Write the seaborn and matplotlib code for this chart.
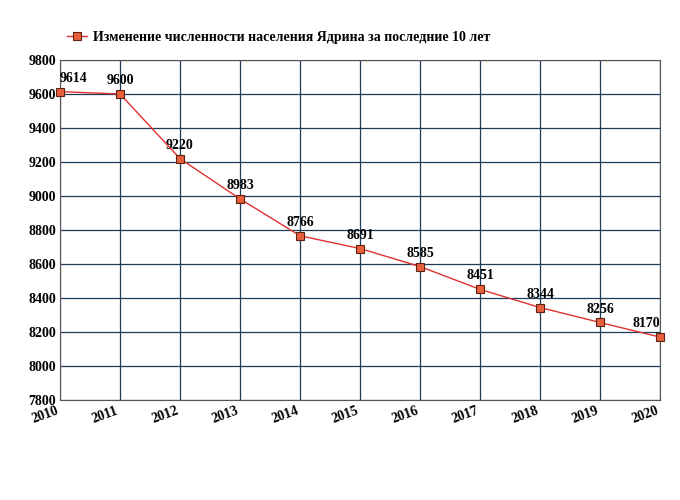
import matplotlib
matplotlib.use("Agg")
import matplotlib.pyplot as plt
import seaborn as sns
import pandas as pd

years = [2010, 2011, 2012, 2013, 2014, 2015, 2016, 2017, 2018, 2019, 2020]
population = [9614, 9600, 9220, 8983, 8766, 8691, 8585, 8451, 8344, 8256, 8170]
yticks = list(range(7800, 9801, 200))
title = "Изменение численности населения Ядрина за последние 10 лет"

df = pd.DataFrame({"year": years, "pop": population})
fig = plt.figure(figsize=(6.8, 5), dpi=100)
ax = fig.add_axes([60/680, 1-400/500, 600/680, 340/500])
sns.lineplot(data=df, x="year", y="pop", ax=ax, color="#e03030", lw=1,
             marker="s", markersize=6, markerfacecolor="#e8603c",
             markeredgecolor="#602010", markeredgewidth=0.8, label=title,
             clip_on=False, zorder=5)
for i, (x, y) in enumerate(zip(years, population)):
    ha = "left" if i == 0 else ("right" if i == len(years) - 1 else "center")
    ax.annotate(str(y), (x, y), xytext=(0, 5), textcoords="offset points",
                ha=ha, va="bottom", fontsize=10, fontweight="bold",
                fontfamily="Liberation Serif")
ax.set_xlim(2010, 2020)
ax.set_ylim(7800, 9800)
ax.set_xticks(years)
ax.set_yticks(yticks)
ax.grid(True, color="#1c3d5a", lw=0.9)
for s in ax.spines.values():
    s.set_color("#555555")
ax.tick_params(length=0, pad=3)
for lbl in ax.get_xticklabels():
    lbl.set_rotation(20); lbl.set_ha("right")
    lbl.set_fontweight("bold"); lbl.set_fontfamily("Liberation Serif"); lbl.set_fontsize(10)
for lbl in ax.get_yticklabels():
    lbl.set_fontweight("bold"); lbl.set_fontfamily("Liberation Serif"); lbl.set_fontsize(10)
ax.set_xlabel(""); ax.set_ylabel("")
leg = ax.legend(loc="lower left", bbox_to_anchor=(-0.01, 1.01), frameon=False,
                prop={"family": "Liberation Serif", "weight": "bold", "size": 10},
                handlelength=1.5, handletextpad=0.4)
fig.savefig("out.png", dpi=100)
